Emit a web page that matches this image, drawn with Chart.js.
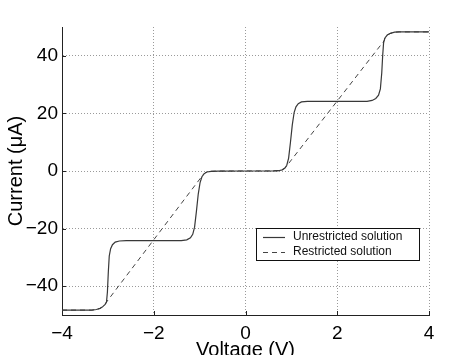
<!DOCTYPE html>
<html>
<head>
<meta charset="utf-8">
<script src="https://cdn.jsdelivr.net/npm/chart.js@4/dist/chart.umd.min.js"></script>
<style>
html,body{margin:0;padding:0;background:#fff;}
#wrap{width:474px;height:355px;}
</style>
</head>
<body>
<div id="wrap"><canvas id="c" width="474" height="355"></canvas></div>
<script>
// ---- data ----
const voltageUnrestricted = [-4,-3.35,-3.25,-3.17,-3.11,-3.06,-3.03,-3.01,-2.99,-2.97,-2.94,-2.9,-2.84,-2.75,-2.6,-1.4,-1.28,-1.2,-1.15,-1.11,-1.07,-1.03,-0.99,-0.95,-0.9,-0.84,-0.75,-0.6,0,0.6,0.72,0.8,0.86,0.9,0.94,0.98,1.02,1.06,1.1,1.15,1.22,1.35,2.65,2.76,2.84,2.9,2.94,2.97,2.99,3.01,3.04,3.09,3.16,3.25,3.35,4];
const currentUnrestricted = [-48.3,-48.3,-48.1,-47.7,-47.1,-46.3,-45.5,-42,-35,-29.5,-27,-25.6,-24.7,-24.3,-24.2,-24.2,-23.9,-23.2,-22,-19.5,-14,-8,-4,-2,-0.9,-0.35,-0.1,-0.02,0,0.02,0.1,0.4,1,2,4.5,10,16,20.3,22.3,23.4,24,24.2,24.2,24.5,25.2,26.3,28.5,34,40,44.5,46.2,47.2,47.8,48.2,48.3,48.3];
const voltageRestricted = [-4,-3.35,-3.25,-3.17,-3.11,-3.06,-3.03,-0.92,-0.86,-0.75,-0.6,0.6,0.72,0.8,0.86,0.9,3.02,3.04,3.09,3.16,3.25,3.35,4];
const currentRestricted = [-48.3,-48.3,-48.1,-47.7,-47.1,-46.3,-45.5,-1.2,-0.45,-0.1,-0.02,0.02,0.1,0.4,1,1.8,45.2,46.2,47.2,47.8,48.2,48.3,48.3];
const seriesLabels = ['Unrestricted solution', 'Restricted solution'];
const xTicks = [-4,-2,0,2,4];
const yTicks = [-40,-20,0,20,40];
const xTitle = 'Voltage (V)';
const yTitle = 'Current (\u03BCA)';

const toPts = (xs, ys) => xs.map((x, i) => ({x: x, y: ys[i]}));
const fmt = v => (v < 0 ? '\u2212' + Math.abs(v) : String(v));
const FONT = "'Liberation Sans', Arial, Helvetica, sans-serif";

const innerTicks = {
  id: 'innerTicks',
  afterDraw(chart) {
    const ctx = chart.ctx, a = chart.chartArea;
    const xs = chart.scales.x, ys = chart.scales.y;
    ctx.save();
    ctx.strokeStyle = '#222';
    ctx.lineWidth = 1;
    ctx.beginPath();
    xTicks.forEach(v => {
      const px = Math.round(xs.getPixelForValue(v)) + 0.5;
      ctx.moveTo(px, a.bottom); ctx.lineTo(px, a.bottom - 4);
    });
    yTicks.forEach(v => {
      const py = Math.round(ys.getPixelForValue(v)) + 0.5;
      ctx.moveTo(a.left, py); ctx.lineTo(a.left + 4, py);
    });
    ctx.stroke();
    ctx.restore();
  }
};

const legendInside = {
  id: 'legendInside',
  afterDatasetsDraw(chart) {
    const ctx = chart.ctx;
    const x0 = 256, y0 = 228, w = 163, h = 32;
    ctx.save();
    ctx.fillStyle = '#fff';
    ctx.fillRect(x0, y0, w, h);
    ctx.strokeStyle = '#111';
    ctx.lineWidth = 1;
    ctx.setLineDash([]);
    ctx.strokeRect(x0 + 0.5, y0 + 0.5, w, h);
    chart.data.datasets.forEach((ds, i) => {
      const y = y0 + 9 + i * 15;
      ctx.strokeStyle = ds.borderColor;
      ctx.lineWidth = ds.borderWidth;
      ctx.setLineDash(ds.borderDash || []);
      ctx.beginPath();
      ctx.moveTo(x0 + 7, y + 0.5);
      ctx.lineTo(x0 + 29, y + 0.5);
      ctx.stroke();
      ctx.setLineDash([]);
      ctx.fillStyle = '#111';
      ctx.font = '12px ' + FONT;
      ctx.textBaseline = 'middle';
      ctx.textAlign = 'left';
      ctx.fillText(ds.label, x0 + 37, y);
    });
    ctx.restore();
  }
};

new Chart(document.getElementById('c'), {
  type: 'line',
  data: {
    datasets: [
      {
        label: seriesLabels[0],
        data: toPts(voltageUnrestricted, currentUnrestricted),
        borderColor: '#383838',
        borderWidth: 1.2,
        pointRadius: 0,
        tension: 0,
        fill: false
      },
      {
        label: seriesLabels[1],
        data: toPts(voltageRestricted, currentRestricted),
        borderColor: '#444',
        borderWidth: 1,
        borderDash: [5, 4],
        pointRadius: 0,
        tension: 0,
        fill: false
      }
    ]
  },
  options: {
    responsive: false,
    animation: false,
    devicePixelRatio: 1,
    layout: {padding: {top: 27, right: 45, left: 0, bottom: 0}},
    plugins: {legend: {display: false}, tooltip: {enabled: false}},
    scales: {
      x: {
        type: 'linear',
        min: -4, max: 4,
        afterBuildTicks: s => { s.ticks = xTicks.map(v => ({value: v})); },
        afterFit: s => { s.height = 40; },
        grid: {color: '#9a9a9a', lineWidth: 1, drawTicks: false},
        border: {display: true, color: '#222', width: 1, dash: [1, 2]},
        ticks: {
          color: '#000', padding: 7, maxRotation: 0,
          font: {family: FONT, size: 19},
          callback: v => fmt(v)
        },
        title: {
          display: true, text: xTitle, color: '#000',
          font: {family: FONT, size: 20},
          padding: {top: 0, bottom: -7}
        }
      },
      y: {
        type: 'linear',
        min: -50, max: 50,
        afterBuildTicks: s => { s.ticks = yTicks.map(v => ({value: v})); },
        afterFit: s => { s.width = 62; },
        grid: {color: '#9a9a9a', lineWidth: 1, drawTicks: false},
        border: {display: true, color: '#222', width: 1, dash: [1, 2]},
        ticks: {
          color: '#000', padding: 4,
          font: {family: FONT, size: 19},
          callback: v => fmt(v)
        },
        title: {
          display: true, text: yTitle, color: '#000',
          font: {family: FONT, size: 20},
          padding: {top: 4, bottom: 0}
        }
      }
    }
  },
  plugins: [legendInside, innerTicks]
});
</script>
</body>
</html>
